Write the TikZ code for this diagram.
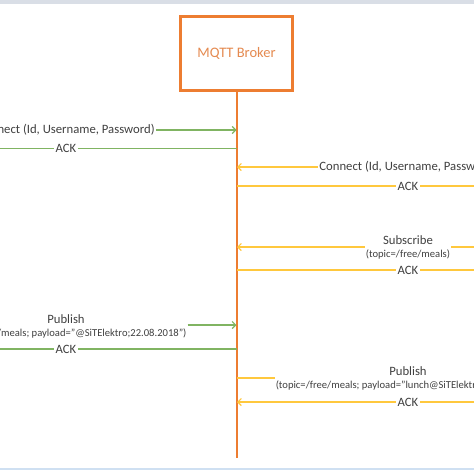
\documentclass[tikz,border=0pt]{standalone}
\usepackage{fontspec}
\setmainfont{Carlito}
\usetikzlibrary{arrows.meta}
\definecolor{brokerorange}{HTML}{ED7D31}
\definecolor{brokertext}{HTML}{E58A50}
\definecolor{msggreen}{HTML}{80B462}
\definecolor{msgyellow}{HTML}{FFC83D}
\definecolor{labelgray}{HTML}{404040}
\definecolor{topbar}{HTML}{D9DEE6}
\definecolor{bottomline}{HTML}{CFE0F2}
\newcommand{\smalltext}{\fontsize{10.6}{12}\selectfont}
\begin{document}
\begin{tikzpicture}[x=1pt,y=-1pt,
  msg/.style={line width=1.2pt},
  greenmsg/.style={msg,draw=msggreen},
  yellowmsg/.style={msg,draw=msgyellow},
  tipped/.style={-{Straight Barb[length=3.5pt,width=7pt]}},
  lbl/.style={text=labelgray,font=\fontsize{12.7}{14}\selectfont,inner sep=1.5pt},
  lbltwo/.style={lbl,align=center,inner sep=1pt}]
\clip (0,0) rectangle (474,474);
\fill[white] (0,0) rectangle (474,474);
\fill[topbar] (0,0) rectangle (474,3.5);
\draw[bottomline, line width=2pt] (0,468.5) -- (474,468.5);

% broker and lifeline
\node[draw=brokerorange, line width=3pt, minimum width=112pt, minimum height=74pt,
      text=brokertext, font=\fontsize{14.5}{16}\selectfont] (broker) at (236.5,53.5) {MQTT Broker};
\coordinate (lifeend) at (236.5,458);
\draw[brokerorange, line width=2pt] (broker.south) -- (lifeend);

% points on the lifeline
\coordinate (m1) at (236.5,130);
\coordinate (m2) at (236.5,148.5);
\coordinate (m3) at (237,167);
\coordinate (m4) at (237,186);
\coordinate (m5) at (237,247);
\coordinate (m6) at (237,270);
\coordinate (m7) at (236.5,325);
\coordinate (m8) at (236.5,349);
\coordinate (m9) at (237,378);
\coordinate (m10) at (237,402);

% off-picture ends
\coordinate (a1L) at (-40,148.5);
\coordinate (a2R) at (520,186);
\coordinate (s1R) at (520,247);
\coordinate (a3R) at (520,270);
\coordinate (a4L) at (-40,349);
\coordinate (a5R) at (520,402);

% labels
\node[lbl] (c1) at (66,130) {Connect (Id, Username, Password)};
\node[lbl] (a1) at (66,148.5) {ACK};
\node[lbl] (c2) at (408,167) {Connect (Id, Username, Password)};
\node[lbl] (a2) at (408,186) {ACK};
\node[lbltwo] (s1) at (408,247) {Subscribe\\[-1pt]{\smalltext (topic=/free/meals)}};
\node[lbl] (a3) at (408,270) {ACK};
\node[lbltwo] (p1) at (66,326) {Publish\\[-1pt]{\smalltext (topic=/free/meals; payload="@SiTElektro;22.08.2018")}};
\node[lbl] (a4) at (66,349) {ACK};
\node[lbltwo] (p2) at (408,378.5) {Publish\\[-1pt]{\smalltext (topic=/free/meals; payload="lunch@SiTElektro;22.08.2018")}};
\node[lbl] (a5) at (408,402) {ACK};

% client 1 (green)
\draw[greenmsg, tipped] (c1.east) -- (m1);
\draw[greenmsg] (a1L) -- (a1.west) (a1.east) -- (m2);
\draw[greenmsg, tipped] (p1.east |- m7) -- (m7);
\draw[greenmsg] (a4L) -- (a4.west) (a4.east) -- (m8);

% client 2 (yellow)
\draw[yellowmsg, tipped] (c2.west) -- (m3);
\draw[yellowmsg] (m4) -- (a2.west) (a2.east) -- (a2R);
\draw[yellowmsg, tipped] (s1.west |- m5) -- (m5);
\draw[yellowmsg] (s1.east |- m5) -- (s1R);
\draw[yellowmsg] (m6) -- (a3.west) (a3.east) -- (a3R);
\draw[yellowmsg] (m9) -- (p2.west |- m9);
\draw[yellowmsg, tipped] (a5.west) -- (m10);
\draw[yellowmsg] (a5.east) -- (a5R);
\end{tikzpicture}
\end{document}
